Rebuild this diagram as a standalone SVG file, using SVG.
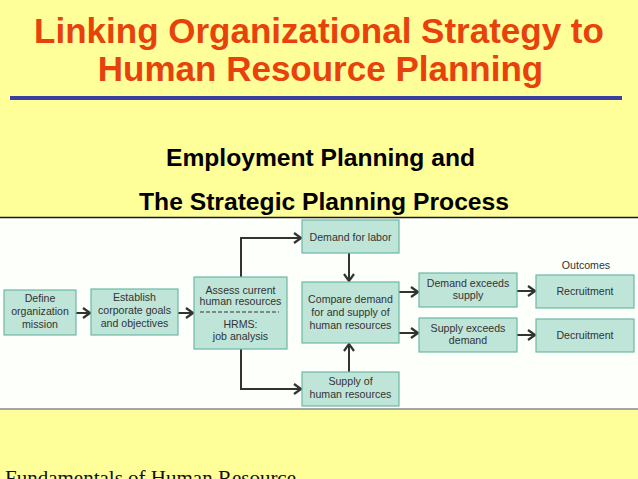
<svg xmlns="http://www.w3.org/2000/svg" width="638" height="479" viewBox="0 0 638 479">
<defs>
<marker id="arr" viewBox="0 0 10 12" refX="9" refY="6" markerWidth="10" markerHeight="12" markerUnits="userSpaceOnUse" orient="auto">
<path d="M2,1 L9,6 L2,11" fill="none" stroke="#333" stroke-width="2.2"/>
</marker>
<style>
.box{fill:#bfe4d8;stroke:#6db8a6;stroke-width:1.2}
.t{font-family:"Liberation Sans",Arial,sans-serif;font-size:10.6px;fill:#333;text-anchor:middle}
.c{fill:none;stroke:#333;stroke-width:2}
.title{font-family:"Liberation Sans",Arial,sans-serif;font-weight:bold;font-size:35px;fill:#e8420c;text-anchor:middle}
.sub{font-family:"Liberation Sans",Arial,sans-serif;font-weight:bold;font-size:23px;fill:#000;text-anchor:middle}
</style>
</defs>
<rect x="0" y="0" width="638" height="479" fill="#ffff99"/>
<rect x="0" y="217" width="638" height="192" fill="#fdfffb"/>
<line x1="0" y1="217.5" x2="638" y2="217.5" stroke="#1a1a1a" stroke-width="1.5"/>
<line x1="0" y1="409" x2="638" y2="409" stroke="#888" stroke-width="1.5"/>
<text class="title" x="319" y="43">Linking Organizational Strategy to</text>
<text class="title" x="320.5" y="81">Human Resource Planning</text>
<line x1="10" y1="98" x2="622" y2="98" stroke="#3b3f9e" stroke-width="4"/>
<text class="sub" x="320.5" y="166" textLength="309" lengthAdjust="spacingAndGlyphs">Employment Planning and</text>
<text class="sub" x="324" y="210" textLength="370" lengthAdjust="spacingAndGlyphs">The Strategic Planning Process</text>
<g id="connectors">
<line class="c" x1="76" y1="313" x2="90" y2="313" marker-end="url(#arr)"/>
<line class="c" x1="178" y1="313" x2="193" y2="313" marker-end="url(#arr)"/>
<polyline class="c" points="241,277 241,238 301,238" marker-end="url(#arr)"/>
<polyline class="c" points="241,349 241,389 301,389" marker-end="url(#arr)"/>
<line class="c" x1="349" y1="253" x2="349" y2="281" marker-end="url(#arr)"/>
<line class="c" x1="349" y1="372" x2="349" y2="344" marker-end="url(#arr)"/>
<line class="c" x1="399" y1="292" x2="418" y2="292" marker-end="url(#arr)"/>
<line class="c" x1="399" y1="333" x2="418" y2="333" marker-end="url(#arr)"/>
<line class="c" x1="517" y1="291" x2="535" y2="291" marker-end="url(#arr)"/>
<line class="c" x1="517" y1="335" x2="535" y2="335" marker-end="url(#arr)"/>
</g>
<g id="define">
<rect class="box" x="4" y="290" width="72" height="45"/>
<text class="t" x="40" y="302">Define</text>
<text class="t" x="40" y="315">organization</text>
<text class="t" x="40" y="328">mission</text>
</g>
<g id="establish">
<rect class="box" x="91" y="289" width="87" height="46"/>
<text class="t" x="134.5" y="301">Establish</text>
<text class="t" x="134.5" y="314">corporate goals</text>
<text class="t" x="134.5" y="327">and objectives</text>
</g>
<g id="assess">
<rect class="box" x="194" y="277" width="93" height="72"/>
<text class="t" x="240.5" y="294">Assess current</text>
<text class="t" x="240.5" y="305">human resources</text>
<line x1="200" y1="312" x2="279" y2="312" stroke="#333" stroke-width="1" stroke-dasharray="4,2"/>
<text class="t" x="240.5" y="328">HRMS:</text>
<text class="t" x="240.5" y="340">job analysis</text>
</g>
<g id="demand">
<rect class="box" x="302" y="220" width="97" height="33"/>
<text class="t" x="350.5" y="241">Demand for labor</text>
</g>
<g id="compare">
<rect class="box" x="302" y="282" width="97" height="61"/>
<text class="t" x="350.5" y="303">Compare demand</text>
<text class="t" x="350.5" y="316">for and supply of</text>
<text class="t" x="350.5" y="329">human resources</text>
</g>
<g id="supply">
<rect class="box" x="302" y="372" width="97" height="34"/>
<text class="t" x="350.5" y="385">Supply of</text>
<text class="t" x="350.5" y="398">human resources</text>
</g>
<g id="demandexceeds">
<rect class="box" x="419" y="273" width="98" height="34"/>
<text class="t" x="468" y="287">Demand exceeds</text>
<text class="t" x="468" y="299">supply</text>
</g>
<g id="supplyexceeds">
<rect class="box" x="419" y="318" width="98" height="34"/>
<text class="t" x="468" y="332">Supply exceeds</text>
<text class="t" x="468" y="344">demand</text>
</g>
<text class="t" x="586" y="269">Outcomes</text>
<g id="recruitment">
<rect class="box" x="536" y="275" width="98" height="33"/>
<text class="t" x="585" y="295">Recruitment</text>
</g>
<g id="decruitment">
<rect class="box" x="536" y="319" width="98" height="33"/>
<text class="t" x="585" y="339">Decruitment</text>
</g>
<text x="5" y="485" font-family="Liberation Serif,'Times New Roman',serif" font-size="21" fill="#111">Fundamentals of Human Resource</text>
</svg>
